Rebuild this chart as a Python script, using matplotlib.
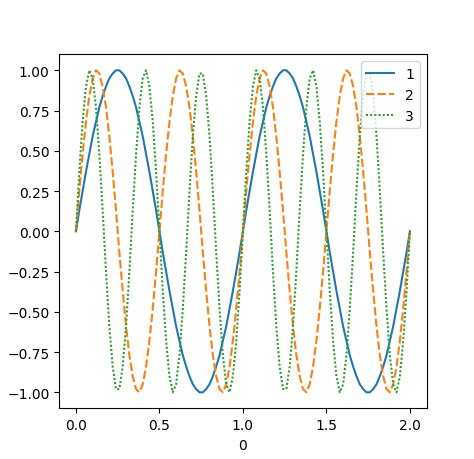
import numpy as np
import pandas as pd
import matplotlib
matplotlib.use("Agg")
import matplotlib.pyplot as plt
import seaborn as sns

x = np.linspace(0, 2, 101)

wave_1 = [0.00, 0.13, 0.25, 0.37, 0.48, 0.59, 0.68, 0.77, 0.84, 0.90,
          0.95, 0.98, 1.00, 1.00, 0.98, 0.95, 0.90, 0.84, 0.77, 0.68,
          0.59, 0.48, 0.37, 0.25, 0.13, 0.00, -0.13, -0.25, -0.37, -0.48,
          -0.59, -0.68, -0.77, -0.84, -0.90, -0.95, -0.98, -1.00, -1.00, -0.98,
          -0.95, -0.90, -0.84, -0.77, -0.68, -0.59, -0.48, -0.37, -0.25, -0.13,
          0.00, 0.13, 0.25, 0.37, 0.48, 0.59, 0.68, 0.77, 0.84, 0.90,
          0.95, 0.98, 1.00, 1.00, 0.98, 0.95, 0.90, 0.84, 0.77, 0.68,
          0.59, 0.48, 0.37, 0.25, 0.13, 0.00, -0.13, -0.25, -0.37, -0.48,
          -0.59, -0.68, -0.77, -0.84, -0.90, -0.95, -0.98, -1.00, -1.00, -0.98,
          -0.95, -0.90, -0.84, -0.77, -0.68, -0.59, -0.48, -0.37, -0.25, -0.13,
          0.00]

wave_2 = [0.00, 0.25, 0.48, 0.68, 0.84, 0.95, 1.00, 0.98, 0.90, 0.77,
          0.59, 0.37, 0.13, -0.13, -0.37, -0.59, -0.77, -0.90, -0.98, -1.00,
          -0.95, -0.84, -0.68, -0.48, -0.25,
          0.00, 0.25, 0.48, 0.68, 0.84, 0.95, 1.00, 0.98, 0.90, 0.77,
          0.59, 0.37, 0.13, -0.13, -0.37, -0.59, -0.77, -0.90, -0.98, -1.00,
          -0.95, -0.84, -0.68, -0.48, -0.25,
          0.00, 0.25, 0.48, 0.68, 0.84, 0.95, 1.00, 0.98, 0.90, 0.77,
          0.59, 0.37, 0.13, -0.13, -0.37, -0.59, -0.77, -0.90, -0.98, -1.00,
          -0.95, -0.84, -0.68, -0.48, -0.25,
          0.00, 0.25, 0.48, 0.68, 0.84, 0.95, 1.00, 0.98, 0.90, 0.77,
          0.59, 0.37, 0.13, -0.13, -0.37, -0.59, -0.77, -0.90, -0.98, -1.00,
          -0.95, -0.84, -0.68, -0.48, -0.25,
          0.00]

wave_3 = [0.00, 0.37, 0.68, 0.90, 1.00, 0.95, 0.77, 0.48, 0.13, -0.25,
          -0.59, -0.84, -0.98, -0.98, -0.84, -0.59, -0.25, 0.13, 0.48, 0.77,
          0.95, 1.00, 0.90, 0.68, 0.37, 0.00, -0.37, -0.68, -0.90, -1.00,
          -0.95, -0.77, -0.48, -0.13, 0.25, 0.59, 0.84, 0.98, 0.98, 0.84,
          0.59, 0.25, -0.13, -0.48, -0.77, -0.95, -1.00, -0.90, -0.68, -0.37,
          0.00, 0.37, 0.68, 0.90, 1.00, 0.95, 0.77, 0.48, 0.13, -0.25,
          -0.59, -0.84, -0.98, -0.98, -0.84, -0.59, -0.25, 0.13, 0.48, 0.77,
          0.95, 1.00, 0.90, 0.68, 0.37, 0.00, -0.37, -0.68, -0.90, -1.00,
          -0.95, -0.77, -0.48, -0.13, 0.25, 0.59, 0.84, 0.98, 0.98, 0.84,
          0.59, 0.25, -0.13, -0.48, -0.77, -0.95, -1.00, -0.90, -0.68, -0.37,
          0.00]

series_names = ["1", "2", "3"]

# ---wide table, index named 0 like the x label---
df = pd.DataFrame({series_names[0]: wave_1,
                   series_names[1]: wave_2,
                   series_names[2]: wave_3},
                  index=pd.Index(x, name="0"))

fig, ax = plt.subplots(figsize=(4.74, 4.60), dpi=100)
sns.lineplot(data=df, ax=ax)
ax.set_xlabel("0")
ax.legend(loc="upper right")

fig.savefig("out.png", dpi=100)
